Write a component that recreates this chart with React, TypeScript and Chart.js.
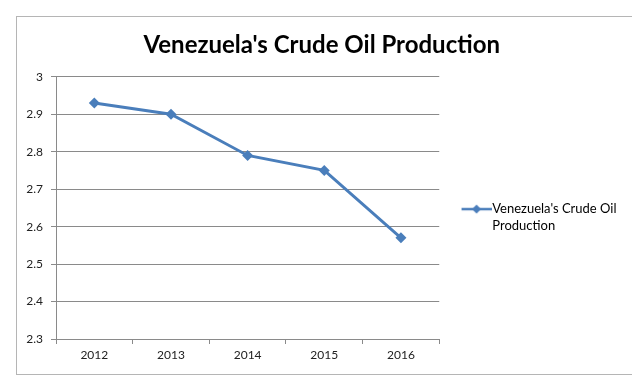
import React, { useEffect, useRef } from "react";
import { Chart, registerables } from "chart.js";

Chart.register(...registerables);

const years = ["2012", "2013", "2014", "2015", "2016"];
const production = [2.93, 2.9, 2.79, 2.75, 2.57];
const seriesName = "Venezuela's Crude Oil Production";
const legendLines = ["Venezuela's Crude Oil", "Production"];
const titleText = "Venezuela's Crude Oil Production";
const yMin = 2.3;
const yMax = 3;
const yStep = 0.1;

const BLUE = "#4a7ebb";
const GRID = "#8a8a8a";
const FONT = "Lato, 'Liberation Sans', sans-serif";

function makeLegendIcon(): HTMLCanvasElement {
  const c = document.createElement("canvas");
  c.width = 36;
  c.height = 12;
  const ctx = c.getContext("2d")!;
  ctx.strokeStyle = BLUE;
  ctx.lineWidth = 2.5;
  ctx.beginPath();
  ctx.moveTo(6, 6);
  ctx.lineTo(36, 6);
  ctx.stroke();
  ctx.fillStyle = BLUE;
  ctx.beginPath();
  ctx.moveTo(21, 1.5);
  ctx.lineTo(25.5, 6);
  ctx.lineTo(21, 10.5);
  ctx.lineTo(16.5, 6);
  ctx.closePath();
  ctx.fill();
  return c;
}

export default function App() {
  const ref = useRef<HTMLCanvasElement | null>(null);

  useEffect(() => {
    if (!ref.current) return;
    const icon = makeLegendIcon();
    const chart = new Chart(ref.current, {
      type: "line",
      data: {
        labels: years,
        datasets: [
          {
            label: seriesName,
            data: production,
            borderColor: BLUE,
            backgroundColor: BLUE,
            borderWidth: 2.9,
            pointStyle: "rectRot",
            pointRadius: 5.5,
            pointBorderWidth: 0,
            pointBackgroundColor: BLUE,
            tension: 0,
          },
        ],
      },
      options: {
        animation: false,
        responsive: true,
        maintainAspectRatio: false,
        layout: { padding: { left: 0, right: 5.5, top: 0, bottom: 0 } },
        plugins: {
          title: {
            display: true,
            text: titleText,
            color: "#000",
            font: { family: FONT, size: 24, weight: "bold" },
            padding: { top: 14, bottom: 17 },
          },
          legend: {
            display: true,
            position: "right",
            maxWidth: 300,
            title: {
              display: true,
              text: "",
              font: { family: FONT, size: 12, lineHeight: 1.2 },
              padding: { top: 33.6, bottom: 0 },
            },
            labels: {
              usePointStyle: true,
              pointStyleWidth: 24.5,
              padding: 22,
              color: "#000",
              font: { family: FONT, size: 13, lineHeight: 1.3 },
              generateLabels: (ch: any) => {
                const items = (Chart as any).defaults.plugins.legend.labels.generateLabels(ch);
                return items.map((it: any) => ({ ...it, text: legendLines, pointStyle: icon }));
              },
            },
          },
          tooltip: { enabled: false },
        },
        scales: {
          x: {
            offset: true,
            grid: {
              offset: true,
              drawOnChartArea: false,
              drawTicks: true,
              tickLength: 5,
              color: GRID,
            },
            border: { color: GRID, width: 1 },
            ticks: {
              color: "#222",
              padding: 4,
              font: { family: FONT, size: 12 },
              maxRotation: 0,
            },
            afterFit: (s: any) => {
              s.height = 35;
            },
          },
          y: {
            min: yMin,
            max: yMax,
            grid: { color: GRID, tickLength: 5, drawTicks: true },
            border: { color: GRID, width: 1 },
            ticks: {
              stepSize: yStep,
              color: "#222",
              padding: 8,
              font: { family: FONT, size: 12 },
              callback: (v: any) => String(Math.round(Number(v) * 10) / 10),
            },
            afterFit: (s: any) => {
              s.width = 39;
            },
          },
        },
      },
    });
    return () => chart.destroy();
  }, []);

  return (
    <div style={{ padding: "8px" }}>
      <div
        style={{
          width: 617,
          height: 359,
          border: "1px solid #b5b5b5",
          boxSizing: "border-box",
          background: "#fff",
        }}
      >
        <canvas ref={ref} />
      </div>
    </div>
  );
}
